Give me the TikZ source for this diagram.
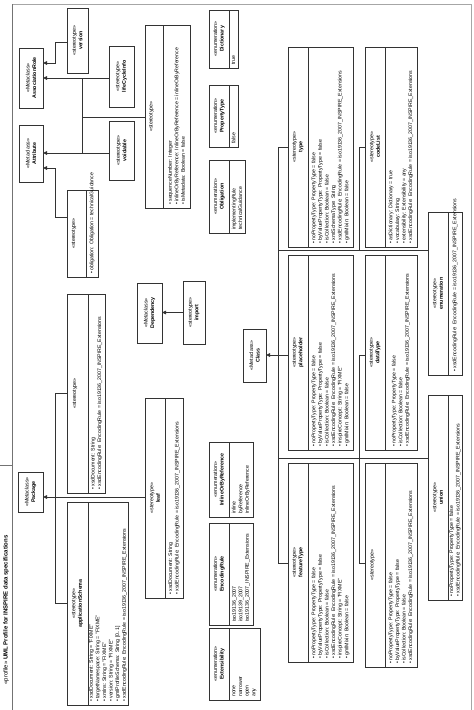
\documentclass[tikz,border=0pt]{standalone}
\usepackage{fontspec}
\setmainfont{Liberation Sans}
\usetikzlibrary{arrows.meta}
\newcommand{\ISOX}{iso19136\_2007\_INSPIRE\_Extensions}
\newcommand{\XER}{\textbullet\ xsdEncodingRule: EncodingRule = \ISOX}
\newcommand{\st}{«stereotype»}
\newcommand{\umlBox}[8]{%
  \node[box, minimum width={(#4)-(#2)}, minimum height={(#5)-(#3)}] (#1) at ({((#2)+(#4))/2},{((#3)+(#5))/2}) {};
  \draw[ln] (#6,#3) -- (#6,#5);
  \node[hdr] (#1h) at ({((#2)+(#6))/2},{((#3)+(#5))/2}) {#7};
  \node[attr] (#1a) at ({((#6)+(#4))/2},{(#5)-3}) {#8};
}
\newcommand{\simpleBox}[6]{%
  \node[box, minimum width={(#4)-(#2)}, minimum height={(#5)-(#3)}] (#1) at ({((#2)+(#4))/2},{((#3)+(#5))/2}) {};
  \node[hdr] (#1h) at (#1.center) {#6};
}
\begin{document}
\begin{tikzpicture}[x=1pt,y=-1pt,
  ln/.style={draw=black!80, line width=0.5pt},
  box/.style={draw=black!80, line width=0.55pt, fill=white, inner sep=0pt, outer sep=0pt, rectangle},
  hdr/.style={rotate=90, align=center, font=\fontsize{5.3}{6.4}\selectfont, inner sep=0pt},
  attr/.style={rotate=90, align=left, anchor=west, font=\fontsize{5.2}{6.6}\selectfont, inner sep=0pt},
  ext/.style={ln, -{Triangle[length=4pt,width=3.6pt]}},
]
\useasboundingbox (0,0) rectangle (474,710);
\fill[white] (0,0) rectangle (474,710);
% frame
\draw[black!35, line width=0.8pt] (12,4) -- (471,4) -- (471,710);
\draw[black!55, line width=0.6pt] (12,4) -- (12,710);
\draw[black!55, line width=0.6pt] (0,465) -- (12,465);
\node[rotate=90, font=\fontsize{6}{7}\selectfont, inner sep=0pt] (title) at (6,610) {«profile» \textbf{UML Profile for INSPIRE data specifications}};

% metaclasses and simple stereotypes
\simpleBox{AssocRole}{19}{48}{43}{108}{«Metaclass»\\\textbf{AssociationRole}}
\simpleBox{Attribute}{19}{125}{43}{182}{«Metaclass»\\\textbf{Attribute}}
\simpleBox{version}{67}{8}{88}{73}{\st\\\textbf{version}}
\simpleBox{lifeCycle}{109}{46}{134}{107}{\st\\\textbf{lifeCycleInfo}}
\simpleBox{voidable}{109}{121}{134}{180}{\st\\\textbf{voidable}}
\simpleBox{Dependency}{137}{283}{162}{343}{«Metaclass»\\\textbf{Dependency}}
\simpleBox{import}{183}{281}{205}{344}{\st\\\textbf{import}}
\simpleBox{Class}{243}{329}{266}{382}{«Metaclass»\\\textbf{Class}}
\simpleBox{Package}{18}{472}{43}{512}{«Metaclass»\\\textbf{Package}}

% stereotypes with attributes
\umlBox{bigst}{145}{25}{190}{208}{163}{\st\\\phantom{X}}{\textbullet\ sequenceNumber: Integer\\\textbullet\ inlineOrByReference: InlineOrByReference = inlineOrByReference\\\textbullet\ isMetadata: Boolean = false}
\umlBox{oblst}{67}{190}{98}{277}{86}{\st\\\phantom{X}}{\textbullet\ obligation: Obligation = technicalGuidance}
\umlBox{pkgst}{67}{294}{105}{493}{88}{\st\\\phantom{X}}{\textbullet\ xsdDocument: String\\\XER}
\umlBox{leaf}{145}{398}{183}{598}{165}{\st\\\textbf{leaf}}{\textbullet\ xsdDocument: String\\\XER}
\umlBox{appschema}{67}{502}{128}{705}{88}{\st\\\textbf{applicationSchema}}{\textbullet\ xsdDocument: String = "FIXME"\\\textbullet\ targetNamespace: String = "FIXME"\\\textbullet\ xmlns: String = "FIXME"\\\textbullet\ version: String = "FIXME"\\\textbullet\ gmlProfileSchema: String [0..1]\\\XER}

% enumerations
\umlBox{Dictionary}{209}{10}{238}{68}{229}{«enumeration»\\\textbf{Dictionary}}{true}
\umlBox{PropertyType}{209}{85}{238}{147}{229}{«enumeration»\\\textbf{PropertyType}}{false}
\umlBox{Obligation}{209}{160}{245}{233}{229}{«enumeration»\\\textbf{Obligation}}{implementingRule\\technicalGuidance}
\umlBox{InlineOrByRef}{209}{442}{253}{517}{229}{«enumeration»\\\textbf{InlineOrByReference}}{inline\\byReference\\inlineOrByReference}
\umlBox{EncodingRule}{209}{523}{253}{625}{229}{«enumeration»\\\textbf{EncodingRule}}{iso19136\_2007\\iso19139\_2007\\\ISOX}
\umlBox{Extensibility}{209}{628}{260}{700}{229}{«enumeration»\\\textbf{Extensibility}}{none\\narrower\\open\\any}

% class stereotypes
\umlBox{type}{288}{47}{353}{247}{308}{\st\\\textbf{type}}{\textbullet\ noPropertyType: PropertyType = false\\\textbullet\ byValuePropertyType: PropertyType = false\\\textbullet\ isCollection: Boolean = false\\\textbullet\ xmlSchemaType: String\\\XER\\\textbullet\ gmlMixin: Boolean = false}
\umlBox{codeList}{365}{47}{417}{247}{385}{\st\\\textbf{codeList}}{\textbullet\ asDictionary: Dictionary = true\\\textbullet\ vocabulary: String\\\textbullet\ extensibility: Extensibility = any\\\XER}
\umlBox{placeholder}{288}{255}{353}{450}{308}{\st\\\textbf{placeholder}}{\textbullet\ noPropertyType: PropertyType = false\\\textbullet\ byValuePropertyType: PropertyType = false\\\textbullet\ isCollection: Boolean = false\\\XER\\\textbullet\ inspireConcept: String = "FIXME"\\\textbullet\ gmlMixin: Boolean = false}
\umlBox{dataType}{365}{255}{417}{450}{385}{\st\\\textbf{dataType}}{\textbullet\ noPropertyType: PropertyType = false\\\textbullet\ isCollection: Boolean = false\\\XER}
\umlBox{featureType}{288}{463}{353}{662}{308}{\st\\\textbf{featureType}}{\textbullet\ noPropertyType: PropertyType = false\\\textbullet\ byValuePropertyType: PropertyType = false\\\textbullet\ isCollection: Boolean = false\\\XER\\\textbullet\ inspireConcept: String = "FIXME"\\\textbullet\ gmlMixin: Boolean = false}
\umlBox{classst}{365}{463}{417}{667}{385}{\st\\\phantom{X}}{\textbullet\ noPropertyType: PropertyType = false\\\textbullet\ byValuePropertyType: PropertyType = false\\\textbullet\ isCollection: Boolean = false\\\XER}
\umlBox{enumst}{428}{212}{462}{375}{448}{\st\\\textbf{enumeration}}{\XER}
\umlBox{union}{428}{395}{462}{600}{448}{\st\\\textbf{union}}{\textbullet\ noPropertyType: PropertyType = false\\\XER}

% connectors: AssociationRole / Attribute
\coordinate (v1) at (55,42); \coordinate (v2) at (55,63);
\draw[ext] (version.west |- v1) -- (v1) -- (v2) -- (AssocRole.east |- v2);
\coordinate (m1) at (82,78); \coordinate (m2) at (82,153); \coordinate (m3) at (82,117);
\draw[ext] (lifeCycle.west |- m1) -- (AssocRole.east |- m1);
\draw[ext] (voidable.west |- m2) -- (Attribute.east |- m2);
\draw[ln] (m1) -- (m2);
\draw[ln] (bigst.west |- m3) -- (m3);
\coordinate (o1) at (55,217); \coordinate (o2) at (55,168);
\draw[ext] (oblst.west |- o1) -- (o1) -- (o2) -- (Attribute.east |- o2);

% Dependency
\draw[ext] (import.west) -- (Dependency.east |- import.west);

% Package
\coordinate (b1) at (55,393); \coordinate (b2) at (55,603); \coordinate (b3) at (55,497);
\draw[ln] (pkgst.west |- b1) -- (b1) -- (b2) -- (appschema.west |- b2);
\draw[ext] (leaf.west |- b3) -- (Package.east |- b3);

% Class
\coordinate (c1) at (278,355);
\draw[ext] (placeholder.west |- c1) -- (Class.east |- c1);
\coordinate (ba) at (278,147); \coordinate (bb) at (278,563);
\draw[ln] (type.west |- ba) -- (ba) -- (bb) -- (featureType.west |- bb);
\coordinate (e1) at (278,250);
\draw[ln] (e1) -- (enumst.west |- e1);
\coordinate (k1) at (359,250); \coordinate (k2) at (359,147);
\draw[ln] (k1) -- (k2) -- (codeList.west |- k2);
\coordinate (u1) at (278,458);
\draw[ln] (u1) -- (union.west |- u1);
\coordinate (k3) at (359,355); \coordinate (k4) at (359,563);
\draw[ln] (dataType.west |- k3) -- (k3) -- (k4) -- (classst.west |- k4);
\end{tikzpicture}
\end{document}
